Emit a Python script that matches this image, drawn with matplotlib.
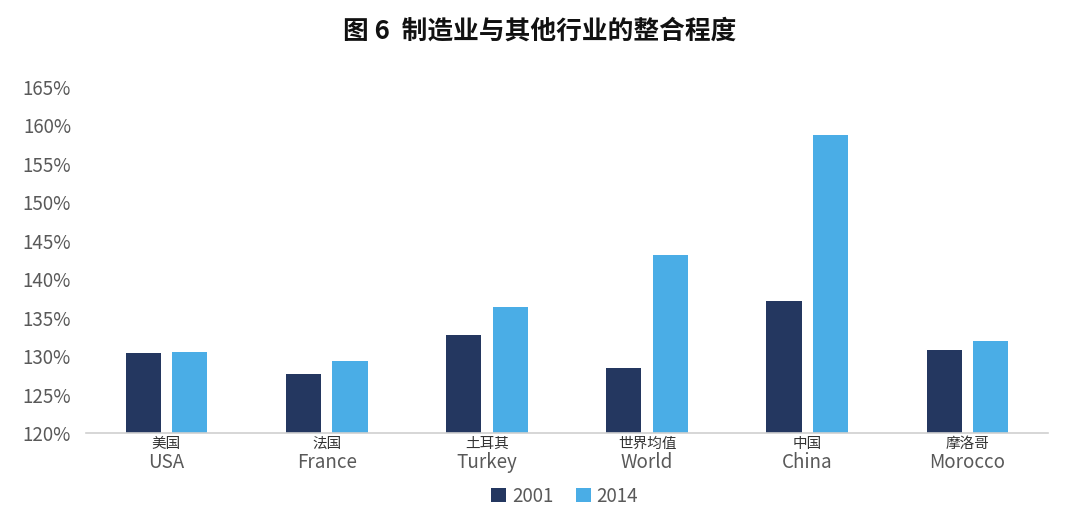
import matplotlib
matplotlib.use("Agg")
import matplotlib.pyplot as plt
import numpy as np
from matplotlib.ticker import FuncFormatter

plt.rcParams['font.family'] = ['Noto Sans CJK SC', 'DejaVu Sans']

categories_cn = ["美国", "法国", "土耳其", "世界均值", "中国", "摩洛哥"]
categories_en = ["USA", "France", "Turkey", "World", "China", "Morocco"]
series_names = ["2001", "2014"]
values_2001 = [130.4, 127.7, 132.8, 128.5, 137.1, 130.8]
values_2014 = [130.6, 129.4, 136.4, 143.1, 158.7, 132.0]
yticks = [120, 125, 130, 135, 140, 145, 150, 155, 160, 165]

c_dark = "#243760"
c_light = "#4AADE6"
gray = "#595959"

fig = plt.figure(figsize=(10.8, 5.25), dpi=100)
ax = fig.add_axes([0.080, 0.175, 0.890, 0.66])

x = np.arange(len(categories_en))
w = 0.22
off = 0.145
ax.bar(x - off, np.array(values_2001) - 120, w, bottom=120, color=c_dark, label=series_names[0])
ax.bar(x + off, np.array(values_2014) - 120, w, bottom=120, color=c_light, label=series_names[1])

ax.set_xlim(-0.5, len(x) - 0.5)
ax.set_ylim(120, 165)
ax.set_yticks(yticks)
ax.yaxis.set_major_formatter(FuncFormatter(lambda v, p: f"{int(v)}%"))
ax.tick_params(axis='y', length=0, labelsize=13.5, labelcolor=gray, pad=11)
ax.set_xticks([])
for s in ["top", "right", "left"]:
    ax.spines[s].set_visible(False)
ax.spines["bottom"].set_color("#d0d0d0")
ax.spines["bottom"].set_linewidth(1.2)

for i in range(len(x)):
    ax.text(x[i], -0.012, categories_cn[i], transform=ax.get_xaxis_transform(),
            ha='center', va='top', fontsize=10.5, color="#333333")
    ax.text(x[i], -0.055, categories_en[i], transform=ax.get_xaxis_transform(),
            ha='center', va='top', fontsize=13.5, color=gray)

fig.text(0.5, 0.94, "图 6  制造业与其他行业的整合程度", ha='center', va='center',
         fontsize=18.5, fontweight='bold', color="#111111")

leg = fig.legend(loc='center', bbox_to_anchor=(0.523, 0.055), ncol=2, frameon=False,
                 fontsize=13.5, handlelength=0.8, handleheight=0.8, handletextpad=0.3,
                 columnspacing=1.2)
for t in leg.get_texts():
    t.set_color(gray)

fig.savefig("out.png", dpi=100, facecolor="white")
